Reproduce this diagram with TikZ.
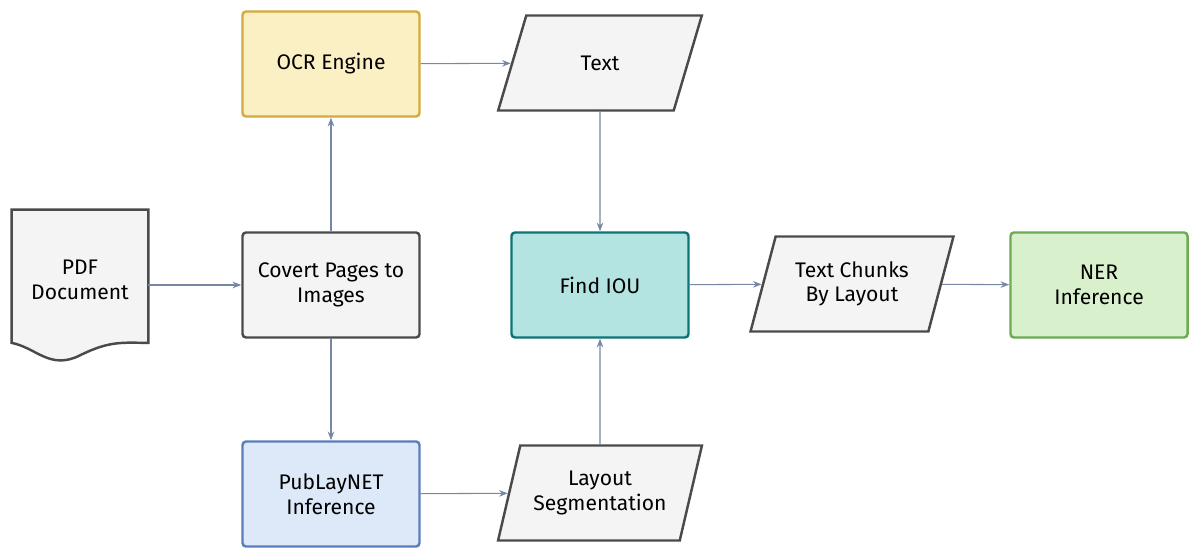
\documentclass[tikz,border=0pt]{standalone}
\usepackage{fontspec}
\setmainfont{Fira Sans}
\usetikzlibrary{shapes.geometric,arrows.meta}
\definecolor{edgegray}{HTML}{4A4A4A}
\definecolor{boxfill}{HTML}{F4F4F4}
\definecolor{arrowcol}{HTML}{7787A6}
\definecolor{ocrline}{HTML}{D4AA3C}
\definecolor{ocrfill}{HTML}{FBEFC4}
\definecolor{iouline}{HTML}{0D7377}
\definecolor{ioufill}{HTML}{B4E4E2}
\definecolor{publine}{HTML}{5B7DB9}
\definecolor{pubfill}{HTML}{DDE9F8}
\definecolor{nerline}{HTML}{6DAA52}
\definecolor{nerfill}{HTML}{D8F1CC}
\begin{document}
\begin{tikzpicture}
\tikzstyle{stage}=[draw=edgegray, fill=boxfill, line width=1.4pt, rounded corners=2pt,
  minimum width=3.54cm, minimum height=2.1cm, align=center, font=\large]
\tikzstyle{data}=[draw=edgegray, fill=boxfill, line width=1.4pt, trapezium,
  trapezium left angle=70, trapezium right angle=110, trapezium stretches=true,
  minimum width=4.08cm, minimum height=1.9cm, align=center, font=\large]
\tikzstyle{flow}=[draw=arrowcol, line width=0.6pt, -{Stealth[length=5pt]}]

\useasboundingbox (0,0) rectangle (24,11.18);

% document shape
\node[minimum width=2.72cm, minimum height=2.4cm] (pdf) at (1.6,5.78) {};
\draw[draw=edgegray, fill=boxfill, line width=1.4pt]
  (pdf.north west) -- (pdf.north east) -- ([yshift=-0.25cm]pdf.south east)
  .. controls ++(-0.5,0) and ++(0.6,0.3) .. ([yshift=-0.5cm]pdf.south)
  .. controls ++(-0.6,-0.3) and ++(0.5,-0.1) .. ([yshift=-0.25cm]pdf.south west) -- cycle;
\node[align=center, font=\large] (pdftext) at ([yshift=-0.2cm]pdf.center) {PDF\\Document};

\node[stage] (convert) at (6.62,5.48) {Covert Pages to\\Images};
\node[stage, draw=ocrline, fill=ocrfill] (ocr) at (6.62,9.9) {OCR Engine};
\node[stage, draw=publine, fill=pubfill] (pub) at (6.62,1.3) {PubLayNET\\Inference};
\node[data] (text) at (12,9.92) {Text};
\node[data] (layout) at (12,1.32) {Layout\\Segmentation};
\node[stage, draw=iouline, fill=ioufill] (iou) at (12,5.48) {Find IOU};
\node[data] (chunks) at (17.04,5.5) {Text Chunks\\By Layout};
\node[stage, draw=nerline, fill=nerfill] (ner) at (21.98,5.48) {NER\\Inference};

\draw[flow] (pdf.east |- convert) -- (convert);
\draw[flow] (convert) -- (ocr);
\draw[flow] (convert) -- (pub);
\draw[flow] (ocr) -- (text);
\draw[flow] (pub) -- (layout);
\draw[flow] (text) -- (iou);
\draw[flow] (layout) -- (iou);
\draw[flow] (iou) -- (chunks);
\draw[flow] (chunks) -- (ner);
\end{tikzpicture}
\end{document}
